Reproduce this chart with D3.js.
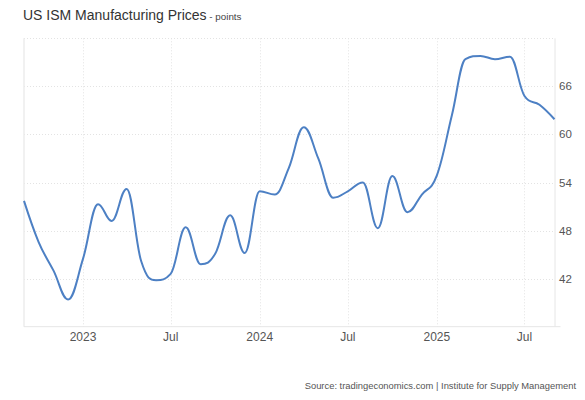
<!DOCTYPE html>
<html lang="en">
<head>
    <meta charset="UTF-8">
    <title>US ISM Manufacturing Prices</title>
    <script src="https://d3js.org/d3.v7.min.js"></script>
    <style>
        body { margin: 0; background: #fff; }
        text { font-family: "Liberation Sans", Arial, sans-serif; }
    </style>
</head>
<body>
    <svg id="chart" width="585" height="400"></svg>
    <script>
        // monthly readings, Sep 2022 .. Sep 2025
        var months = ["2022-09","2022-10","2022-11","2022-12",
            "2023-01","2023-02","2023-03","2023-04","2023-05","2023-06","2023-07","2023-08","2023-09","2023-10","2023-11","2023-12",
            "2024-01","2024-02","2024-03","2024-04","2024-05","2024-06","2024-07","2024-08","2024-09","2024-10","2024-11","2024-12",
            "2025-01","2025-02","2025-03","2025-04","2025-05","2025-06","2025-07","2025-08","2025-09"];
        var prices = [51.7, 46.6, 43.0, 39.4,
            44.5, 51.3, 49.2, 53.2, 44.2, 41.8, 42.6, 48.4, 43.8, 45.1, 49.9, 45.2,
            52.9, 52.5, 55.8, 60.9, 57.0, 52.1, 52.9, 54.0, 48.3, 54.8, 50.3, 52.5,
            54.9, 62.4, 69.4, 69.8, 69.4, 69.7, 64.8, 63.7, 61.9];

        var xTickDates = ["2023-01","2023-07","2024-01","2024-07","2025-01","2025-07"];
        var xTickLabels = ["2023","Jul","2024","Jul","2025","Jul"];
        var yTicks = [42, 48, 54, 60, 66];

        var svg = d3.select("#chart");
        var parse = d3.timeParse("%Y-%m");

        // plot box
        var plotL = 24, plotR = 554.5, plotT = 38.3, plotB = 326.7;

        var x = d3.scaleTime()
            .domain([parse("2022-09"), parse("2025-09")])
            .range([plotL, plotR]);
        var y = d3.scaleLinear()
            .domain([36, 72])
            .range([plotB, plotT]);

        var data = months.map(function(m, i) { return { date: parse(m), value: prices[i] }; });

        // grid
        var grid = svg.append("g");
        grid.selectAll("line.h")
            .data(yTicks.concat([72]))
            .enter().append("line")
            .attr("x1", plotL).attr("x2", plotR)
            .attr("y1", function(d) { return Math.round(y(d)) + 0.5; })
            .attr("y2", function(d) { return Math.round(y(d)) + 0.5; })
            .attr("stroke", "#e3e3e3")
            .attr("stroke-dasharray", "1,2");
        grid.selectAll("line.v")
            .data(xTickDates)
            .enter().append("line")
            .attr("x1", function(d) { return Math.round(x(parse(d))) + 0.5; })
            .attr("x2", function(d) { return Math.round(x(parse(d))) + 0.5; })
            .attr("y1", plotT).attr("y2", plotB)
            .attr("stroke", "#e3e3e3")
            .attr("stroke-dasharray", "1,2");

        // frame: left, right, bottom solid
        svg.append("line").attr("x1", plotL).attr("x2", plotL).attr("y1", plotT).attr("y2", plotB)
            .attr("stroke", "#ececec").attr("stroke-width", 1.5);
        svg.append("line").attr("x1", plotR + 0.5).attr("x2", plotR + 0.5).attr("y1", plotT).attr("y2", plotB)
            .attr("stroke", "#e6e6e6");
        svg.append("line").attr("x1", plotL).attr("x2", plotR + 6).attr("y1", plotB).attr("y2", plotB)
            .attr("stroke", "#e6e6e6");

        // Highcharts-like spline
        function splineCurve(context) {
            var pts = [];
            return {
                areaStart: function() {}, areaEnd: function() {},
                lineStart: function() { pts = []; },
                point: function(px, py) { pts.push({ x: +px, y: +py }); },
                lineEnd: function() {
                    var sm = 1.5, den = sm + 1;
                    for (var i = 1; i < pts.length - 1; i++) {
                        var a = pts[i - 1], p = pts[i], b = pts[i + 1];
                        var lx = (sm * p.x + a.x) / den, ly = (sm * p.y + a.y) / den;
                        var rx = (sm * p.x + b.x) / den, ry = (sm * p.y + b.y) / den;
                        var corr = 0;
                        if (rx !== lx) corr = ((ry - ly) * (rx - p.x)) / (rx - lx) + p.y - ry;
                        ly += corr; ry += corr;
                        if (ly > a.y && ly > p.y) { ly = Math.max(a.y, p.y); ry = 2 * p.y - ly; }
                        else if (ly < a.y && ly < p.y) { ly = Math.min(a.y, p.y); ry = 2 * p.y - ly; }
                        if (ry > b.y && ry > p.y) { ry = Math.max(b.y, p.y); ly = 2 * p.y - ry; }
                        else if (ry < b.y && ry < p.y) { ry = Math.min(b.y, p.y); ly = 2 * p.y - ry; }
                        p.lx = lx; p.ly = ly; p.rx = rx; p.ry = ry;
                    }
                    if (!pts.length) return;
                    context.moveTo(pts[0].x, pts[0].y);
                    for (var j = 1; j < pts.length; j++) {
                        var q = pts[j - 1], c = pts[j];
                        context.bezierCurveTo(
                            q.rx !== undefined ? q.rx : q.x, q.ry !== undefined ? q.ry : q.y,
                            c.lx !== undefined ? c.lx : c.x, c.ly !== undefined ? c.ly : c.y,
                            c.x, c.y);
                    }
                }
            };
        }

        var line = d3.line()
            .x(function(d) { return x(d.date); })
            .y(function(d) { return y(d.value); })
            .curve(splineCurve);

        svg.append("path")
            .datum(data)
            .attr("d", line)
            .attr("fill", "none")
            .attr("stroke", "#4d80c4")
            .attr("stroke-width", 2)
            .attr("stroke-linejoin", "round");

        // y labels on the right
        svg.append("g").selectAll("text")
            .data(yTicks)
            .enter().append("text")
            .attr("x", 559)
            .attr("y", function(d) { return y(d) + 4; })
            .attr("font-size", 11.5)
            .attr("fill", "#555")
            .text(function(d) { return d; });

        // x labels
        svg.append("g").selectAll("text")
            .data(xTickDates)
            .enter().append("text")
            .attr("x", function(d) { return x(parse(d)); })
            .attr("y", 341)
            .attr("text-anchor", "middle")
            .attr("font-size", 12)
            .attr("fill", "#555")
            .text(function(d, i) { return xTickLabels[i]; });

        // title
        var title = svg.append("text").attr("x", 23).attr("y", 20).attr("fill", "#333");
        title.append("tspan").attr("font-size", 14).text("US ISM Manufacturing Prices");
        title.append("tspan").attr("font-size", 9.8).attr("fill", "#444").text(" - points");

        // source
        svg.append("text")
            .attr("x", 576).attr("y", 389)
            .attr("text-anchor", "end")
            .attr("font-size", 9.4)
            .attr("fill", "#555")
            .text("Source: tradingeconomics.com | Institute for Supply Management");
    </script>
</body>
</html>
